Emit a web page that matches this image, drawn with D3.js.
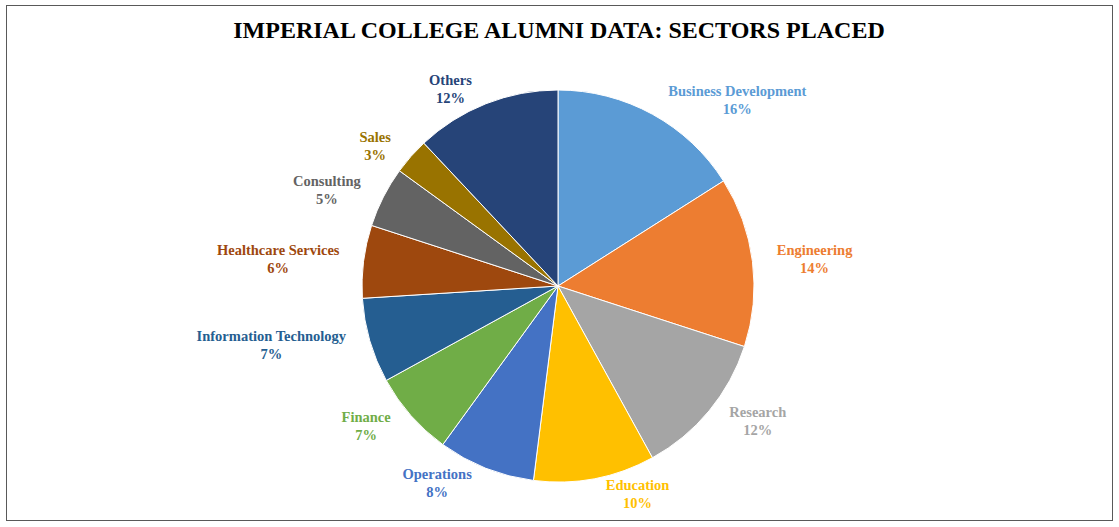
<!DOCTYPE html>
<html><head><meta charset="utf-8">
<script src="https://cdn.jsdelivr.net/npm/d3@7"></script>
<style>body{margin:0;background:#fff}</style></head>
<body><svg id="c" width="1119" height="527"></svg>
<script>
const categories=["Business Development","Engineering","Research","Education","Operations","Finance","Information  Technology","Healthcare Services","Consulting","Sales","Others"];
const values=[16,14,12,10,8,7,7,6,5,3,12];
const colors=["#5B9BD5","#ED7D31","#A5A5A5","#FFC000","#4472C4","#70AD47","#255E91","#9E480E","#636363","#997300","#264478"];
const svg=d3.select("#c");
svg.append("rect").attr("x",6.5).attr("y",5.5).attr("width",1106).attr("height",515).attr("fill","#fff").attr("stroke","#595959");
svg.append("text").attr("x",559).attr("y",38).attr("text-anchor","middle")
 .style("font-family","Liberation Serif").style("font-weight","bold").style("font-size","24px").text("IMPERIAL COLLEGE ALUMNI DATA: SECTORS PLACED");
const cx=558,cy=286,r=196;
const data=categories.map((c,i)=>({c,v:values[i],col:colors[i]}));
const pie=d3.pie().sort(null).value(d=>d.v);
const arcs=pie(data);
const arc=d3.arc().innerRadius(0).outerRadius(r);
const g=svg.append("g").attr("transform",`translate(${cx},${cy})`);
g.selectAll("path").data(arcs).join("path").attr("d",arc).attr("fill",d=>d.data.col).attr("stroke","#fff").attr("stroke-width",1);
const la=d3.arc().innerRadius(212).outerRadius(212);
arcs.forEach(d=>{
  const [x,y]=la.centroid(d);
  const t=g.append("text").attr("text-anchor","middle").style("font-family","Liberation Serif").style("font-weight","bold").style("font-size","14.5px").attr("fill",d.data.c==="Research"?"#A5A5A5":d.data.col);
  t.append("tspan").attr("x",0).attr("dy",0).text(d.data.c);
  t.append("tspan").attr("x",0).attr("dy",18).text(d.data.v+"%");
  const w=t.node().getBBox().width;
  const s=Math.sign(x);
  t.attr("transform",`translate(${x+s*(w/2+8)},${y-4})`);
});
</script></body></html>
